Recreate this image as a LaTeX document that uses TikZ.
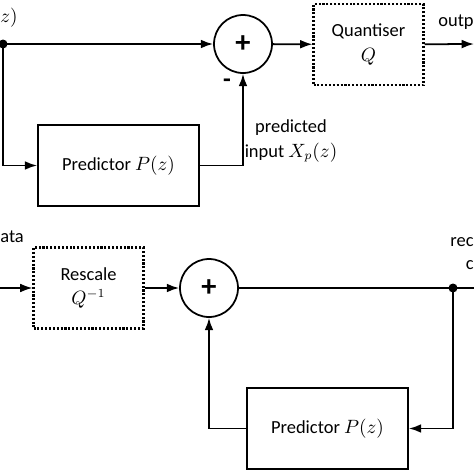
\documentclass[tikz,border=0pt]{standalone}
\usepackage{fontspec}
\setmainfont{Carlito}
\usetikzlibrary{arrows.meta}
\tikzset{
  blockbox/.style={draw, line width=1pt, minimum width=3.22cm, minimum height=1.62cm, align=center},
  dotbox/.style={draw, densely dotted, line width=1.2pt, minimum width=2.2cm, minimum height=1.62cm, align=center},
  sumnode/.style={draw, circle, line width=1pt, minimum size=1.16cm, inner sep=0pt, font=\LARGE\bfseries},
  flow/.style={line width=1pt, -{Latex[length=7pt,width=5pt]}},
  wire/.style={line width=1pt},
  lbl/.style={align=center}
}
\newcommand{\junction}[3]{\fill ( #2 , #3 ) circle (4.5); \coordinate (#1) at ( #2 , #3 );}

\begin{document}
\begin{tikzpicture}[x=0.02cm, y=0.02cm, font=\fontsize{10.5}{14}\selectfont]
\useasboundingbox (0,0) rectangle (474,-474);
\clip (0,0) rectangle (474,-474);
% encoder blocks
\junction{split}{3}{-44}
\coordinate (inA) at (-20,-44);
\node[sumnode] (sumA) at (243,-44) {+};
\node[dotbox] (quant) at (368.5,-44.5) {Quantiser\\$Q$};
\node[blockbox] (predA) at (118.5,-165.5) {Predictor $P(z)$};
\coordinate (outA) at (474,-44);
% encoder connections
\draw[wire] (inA) -- (split);
\draw[flow] (split) -- (sumA);
\draw[flow] (sumA) -- (quant);
\draw[flow] (quant) -- (outA);
\draw[flow] (split) |- (predA);
\draw[flow] (predA) -| (sumA);
% encoder labels
\node (inlabel) [anchor=west, inner sep=0pt] at (0,-18) {$z)$};
\node (outlabel) [anchor=east, inner sep=0pt] at (474,-22) {outp};
\node[lbl] (predlabel) at (291,-141) {predicted\\input $X_p(z)$};
\node (minus) at (227,-83) {\Large\textbf{-}};
% decoder blocks
\coordinate (inB) at (0,-288);
\node[dotbox] (rescale) at (88.5,-288) {Rescale\\$Q^{-1}$};
\node[sumnode] (sumB) at (209,-288) {+};
\junction{tap}{453}{-288}
\coordinate (outB) at (474,-288);
\node[blockbox] (predB) at (327.5,-428.5) {Predictor $P(z)$};
% decoder connections
\draw[flow] (inB) -- (rescale);
\draw[flow] (rescale) -- (sumB);
\draw[wire] (sumB) -- (tap) -- (outB);
\draw[flow] (tap) |- (predB);
\draw[flow] (predB) -| (sumB);
% decoder labels
\node (datalabel) [anchor=west, inner sep=0pt] at (0,-237) {ata};
\node (reclabel) [anchor=east, inner sep=0pt] at (474,-242) {rec};
\node (reclabel2) [anchor=east, inner sep=0pt] at (474,-265) {c};
\end{tikzpicture}
\end{document}
